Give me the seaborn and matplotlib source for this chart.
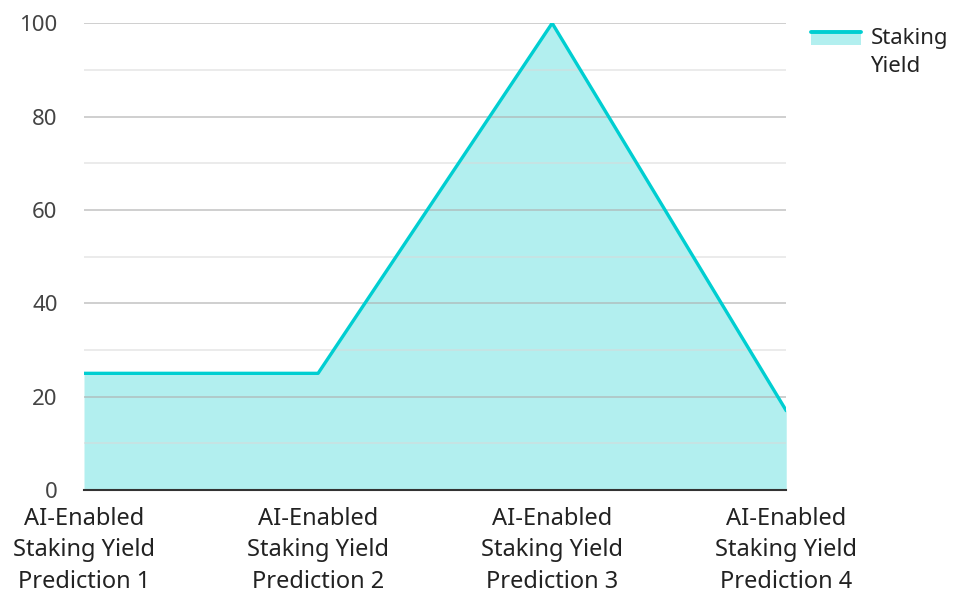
import matplotlib
matplotlib.use("Agg")
import matplotlib.pyplot as plt
import seaborn as sns
import pandas as pd
from matplotlib.patches import Rectangle
from matplotlib.lines import Line2D
from matplotlib.legend_handler import HandlerBase

categories = ["AI-Enabled\nStaking Yield\nPrediction 1", "AI-Enabled\nStaking Yield\nPrediction 2",
              "AI-Enabled\nStaking Yield\nPrediction 3", "AI-Enabled\nStaking Yield\nPrediction 4"]
values = [25, 25, 100, 17]
series_name = "Staking\nYield"

sns.set_style("white")
plt.rcParams['font.family'] = ['Noto Sans', 'DejaVu Sans']

fig = plt.figure(figsize=(9.6, 5.94), dpi=100)
ax = fig.add_axes([0.0875, 0.175, 0.7315, 0.786])

df = pd.DataFrame({"x": list(range(len(categories))), "y": values})
line_color = "#00CED1"
fill_color = "#B2EFEF"
ax.fill_between(df["x"], df["y"], 0, color=fill_color, zorder=1, linewidth=0)
sns.lineplot(data=df, x="x", y="y", ax=ax, color=line_color, linewidth=2.4, zorder=3)

ax.set_xlim(0, len(categories) - 1)
ax.set_ylim(0, 100)
ax.set_yticks([0, 20, 40, 60, 80, 100])
ax.set_yticks([10, 30, 50, 70, 90], minor=True)
ax.set_axisbelow(False)
ax.grid(True, which="major", axis="y", color="#b0b0b0", alpha=0.7, linewidth=1.2)
ax.grid(True, which="minor", axis="y", color="#d8d8d8", alpha=0.6, linewidth=1.2)

ax.set_xticks(df["x"])
ax.set_xticklabels(categories, fontsize=17, color="#222222", linespacing=1.42)
ax.tick_params(axis="y", labelsize=16, labelcolor="#444444", length=0, pad=19, which="both")
ax.tick_params(axis="x", length=0, pad=12)
ax.set_xlabel("")
ax.set_ylabel("")
for s in ["top", "right", "left"]:
    ax.spines[s].set_visible(False)
ax.spines["bottom"].set_color("#333333")
ax.spines["bottom"].set_linewidth(1.5)
ax.spines["bottom"].set_zorder(4)


class AreaHandler(HandlerBase):
    def create_artists(self, legend, orig_handle, xdescent, ydescent, width, height, fontsize, trans):
        top = height / 2 + 0.94 * fontsize
        ph = 0.59 * fontsize
        rect = Rectangle((-xdescent, -ydescent + top - ph), width, ph,
                         facecolor=fill_color, edgecolor="none", transform=trans)
        ln = Line2D([-xdescent, -xdescent + width], [-ydescent + top, -ydescent + top],
                    color=line_color, linewidth=2.8, transform=trans)
        return [rect, ln]


proxy = Line2D([], [], color=line_color)
leg = fig.legend([proxy], [series_name], loc="upper left", bbox_to_anchor=(0.824, 0.987),
                 frameon=False, fontsize=16, handlelength=2.27, handletextpad=0.4,
                 labelcolor="#222222", handler_map={Line2D: AreaHandler()})
for t in leg.get_texts():
    t.set_linespacing(1.45)

fig.savefig("out.png", dpi=100)
